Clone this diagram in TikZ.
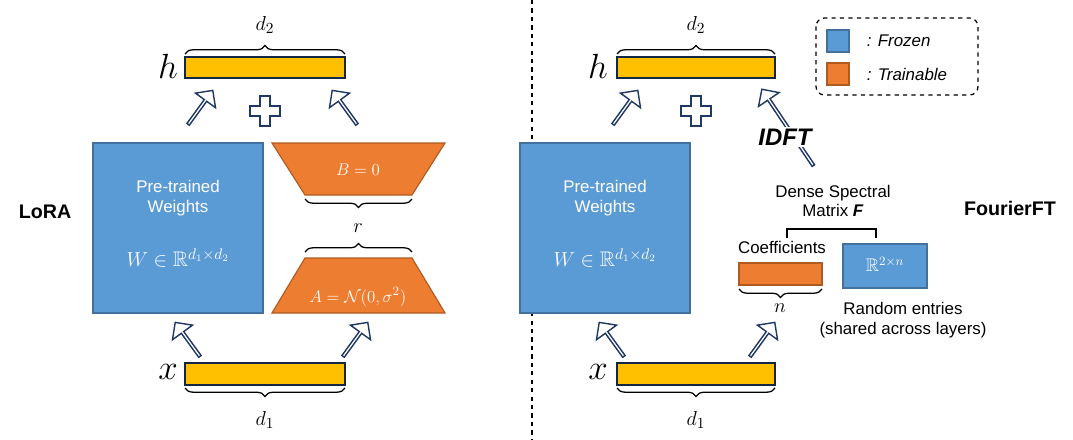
\documentclass[tikz,border=0pt]{standalone}
\usepackage{fontspec}
\setmainfont{Liberation Sans}
\usepackage{amssymb}
\usetikzlibrary{positioning, shapes.arrows, decorations.pathreplacing, calc}

\definecolor{frozen}{HTML}{5B9BD5}
\definecolor{frozenedge}{HTML}{41719C}
\definecolor{train}{HTML}{ED7D31}
\definecolor{trainedge}{HTML}{AE5A21}
\definecolor{vec}{HTML}{FFC000}
\definecolor{navy}{HTML}{1F3864}

\tikzset{
	vecbar/.style={draw=navy!70!black, fill=vec, line width=0.8pt},
	frozenbox/.style={draw=frozenedge, fill=frozen, line width=0.8pt},
	trainbox/.style={draw=trainedge, fill=train, line width=0.8pt},
	hollow/.style={single arrow, draw=navy, fill=white, line width=1pt, inner sep=0pt,
		minimum width=0.62cm, minimum height=1.05cm, single arrow head extend=0.13cm,
		single arrow tip angle=90},
	brc/.style={decorate, decoration={brace, amplitude=6pt}, line width=0.9pt},
	lbl/.style={font=\fontsize{12}{14}\selectfont},
	white lbl/.style={font=\fontsize{12}{14}\selectfont, text=white, align=center},
	vname/.style={font=\fontsize{24}{26}\selectfont},
	dim/.style={font=\fontsize{15}{17}\selectfont}
}

\begin{document}
\begin{tikzpicture}[x=0.025cm, y=-0.025cm]
	\useasboundingbox (0,0) rectangle (1073,440);
	% divider
	\draw[dashed, line width=1.2pt] (532,0) -- (532,440);

	% ---------- LoRA ----------
	\node[font=\bfseries\fontsize{14}{16}\selectfont] (lora) at (45,212) {LoRA};
	\draw[vecbar] (185,57) rectangle (345,78);
	\node[vname] (hL) at (168,66) {$h$};
	\draw[brc] (185,54) -- (345,54);
	\node[dim] (d2L) at (265,25) {$d_2$};
	\draw[vecbar] (185,363) rectangle (345,385);
	\node[vname] (xL) at (168,372) {$x$};
	\draw[brc] (345,388) -- (185,388);
	\node[dim] (d1L) at (265,420) {$d_1$};

	\draw[frozenbox] (93,143) rectangle (263,313);
	\node[white lbl] (ptL) at (178,198) {Pre-trained\\Weights};
	\node[white lbl, font=\fontsize{15}{17}\selectfont] (wL) at (178,258) {$W \in \mathbb{R}^{d_1\times d_2}$};

	\draw[trainbox] (272,143) -- (445,143) -- (412,195) -- (305,195) -- cycle;
	\node[white lbl, font=\fontsize{13}{15}\selectfont] (B) at (358,170) {$B=0$};
	\draw[trainbox] (305,258) -- (412,258) -- (445,313) -- (272,313) -- cycle;
	\node[white lbl, font=\fontsize{13}{15}\selectfont] (A) at (358,297) {$A=\mathcal{N}(0,\sigma^2)$};
	\draw[brc] (412,199) -- (305,199);
	\draw[brc] (305,252) -- (412,252);
	\node[dim] (r) at (358,228) {$r$};

	\node[hollow, rotate=54] (aL1) at (200,108) {};
	\node[hollow, rotate=126] (aL2) at (345,108) {};
	\node[hollow, rotate=126] (aL3) at (188,340) {};
	\node[hollow, rotate=54] (aL4) at (355,340) {};
	\draw[navy, fill=white, line width=1pt] (260,96) -- (270,96) -- (270,106) -- (280,106) -- (280,116)
		-- (270,116) -- (270,126) -- (260,126) -- (260,116) -- (250,116) -- (250,106) -- (260,106) -- cycle;

	% ---------- FourierFT ----------
	\node[font=\bfseries\fontsize{14}{16}\selectfont] (fft) at (1010,208) {FourierFT};
	\draw[vecbar] (617,57) rectangle (775,78);
	\node[vname] (hR) at (598,66) {$h$};
	\draw[brc] (617,54) -- (775,54);
	\node[dim] (d2R) at (696,25) {$d_2$};
	\draw[vecbar] (617,363) rectangle (775,385);
	\node[vname] (xR) at (598,372) {$x$};
	\draw[brc] (775,388) -- (617,388);
	\node[dim] (d1R) at (696,420) {$d_1$};

	\draw[frozenbox] (520,143) rectangle (690,313);
	\node[white lbl] (ptR) at (605,198) {Pre-trained\\Weights};
	\node[white lbl, font=\fontsize{15}{17}\selectfont] (wR) at (605,258) {$W \in \mathbb{R}^{d_1\times d_2}$};

	\node[hollow, rotate=54] (aR1) at (625,108) {};
	\draw[navy, fill=white, line width=1pt] (691,96) -- (701,96) -- (701,106) -- (711,106) -- (711,116)
		-- (701,116) -- (701,126) -- (691,126) -- (691,116) -- (681,116) -- (681,106) -- (691,106) -- cycle;
	\node[hollow, rotate=124, minimum height=2.3cm] (aR2) at (788,128) {};
	\node[font=\bfseries\itshape\fontsize{17}{19}\selectfont, fill=white, inner sep=1pt] (idft) at (785,137) {IDFT};
	\node[hollow, rotate=126] (aR3) at (612,340) {};
	\node[hollow, rotate=54] (aR4) at (762,340) {};

	\node[lbl, align=center] (dsm) at (833,201) {Dense Spectral\\Matrix \textbf{\textit{F}}};
	\draw[line width=0.9pt] (787,238) -- (787,229) -- (876,229) -- (876,238);
	\node[lbl] (coef) at (782,247) {Coefficients};
	\draw[trainbox] (739,263) rectangle (822,285);
	\draw[brc] (822,289) -- (739,289);
	\node[dim] (n) at (780,308) {$n$};
	\draw[frozenbox] (843,244) rectangle (927,288);
	\node[white lbl, font=\fontsize{13}{15}\selectfont] (rand) at (885,264) {$\mathbb{R}^{2\times n}$};
	\node[lbl, align=center] (rtxt) at (903,320) {Random entries\\(shared across layers)};

	% legend
	\draw[dashed, rounded corners=6pt, line width=0.9pt] (816,18) rectangle (978,95);
	\draw[frozenbox] (827,30) rectangle (849,52);
	\node[lbl, anchor=west, font=\itshape\fontsize{12}{14}\selectfont] (lf) at (862,41) {: Frozen};
	\draw[trainbox] (827,63) rectangle (849,85);
	\node[lbl, anchor=west, font=\itshape\fontsize{12}{14}\selectfont] (lt) at (862,74) {: Trainable};
\end{tikzpicture}
\end{document}
